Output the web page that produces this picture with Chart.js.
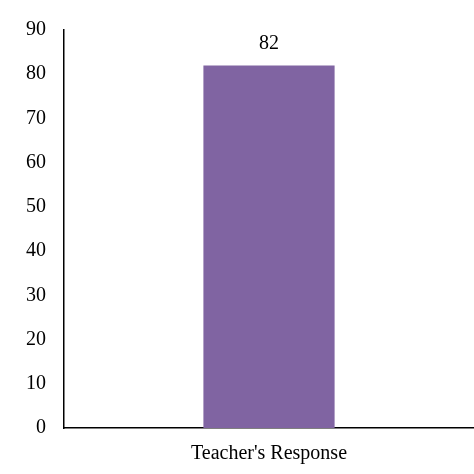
<!DOCTYPE html>
<html><head><style>html,body{margin:0;padding:0;overflow:hidden;background:#fff}#w{position:absolute;left:-20px;top:0;width:494px;height:474px}</style>
<script src="https://cdn.jsdelivr.net/npm/chart.js@4"></script></head>
<body><div id="w"><canvas id="c"></canvas></div>
<script>
const categories=["Teacher's Response"];
const values=[82];
const yTicks=[0,10,20,30,40,50,60,70,80,90];
const F="'Liberation Serif','Times New Roman',serif";
const labelPlugin={id:'lbl',afterDatasetsDraw(ch){const ctx=ch.ctx;const m=ch.getDatasetMeta(0);ctx.save();ctx.font="20px "+F;ctx.fillStyle='#000';ctx.textAlign='center';ctx.textBaseline='bottom';m.data.forEach((b,i)=>ctx.fillText(values[i],b.x,b.y-12));ctx.restore();}};
new Chart(document.getElementById('c'),{type:'bar',data:{labels:categories,datasets:[{data:values,backgroundColor:'#8064a2',barPercentage:0.32,categoryPercentage:1}]},
options:{responsive:true,maintainAspectRatio:false,animation:false,layout:{padding:{top:28,right:0}},
plugins:{legend:{display:false},tooltip:{enabled:false}},
scales:{y:{min:0,max:90,afterBuildTicks(s){s.ticks=yTicks.map(v=>({value:v}));},afterFit(s){s.width=84;},
grid:{display:false,drawTicks:false},border:{color:'#000',width:1.5},
ticks:{color:'#000',font:{family:F,size:20},padding:18},
title:{display:true,text:'% of Satisfied',color:'#000',font:{family:F,size:22,weight:'bold'},padding:0}},
x:{afterFit(s){s.height=46;},grid:{display:false,drawTicks:false},border:{color:'#000',width:1.5},ticks:{color:'#000',font:{family:F,size:20},padding:14}}}},
plugins:[labelPlugin]});
</script></body></html>
